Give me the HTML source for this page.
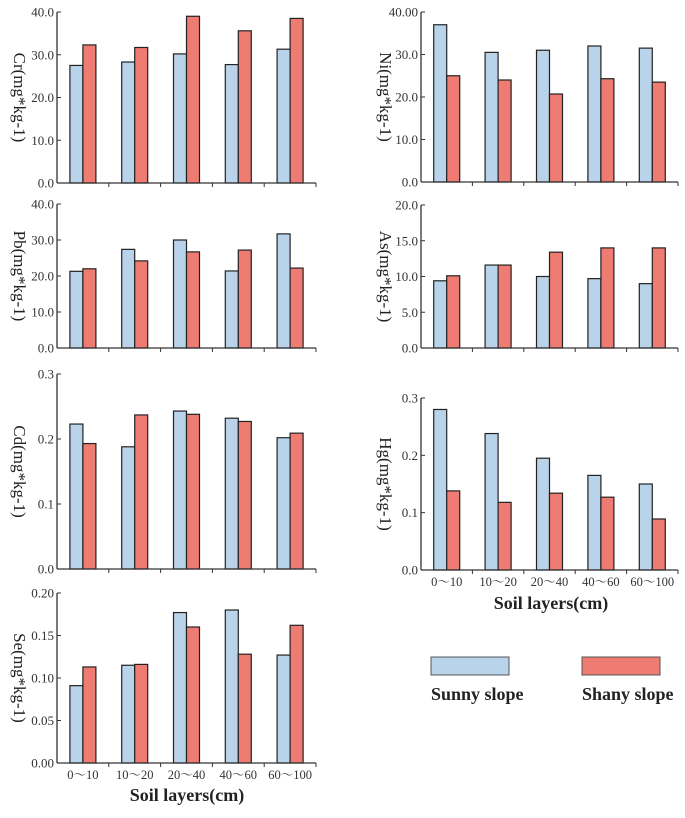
<!DOCTYPE html>
<html><head><meta charset="utf-8"><style>
body{margin:0;background:#fff;width:685px;height:813px;overflow:hidden}
svg text{font-family:"Liberation Serif","Noto Serif CJK SC",serif}
</style></head><body>
<svg id="c" width="685" height="813"></svg>
<script>
const categories=["0～10","10～20","20～40","40～60","60～100"];
const crSunny=[27.5,28.3,30.2,27.7,31.3];
const crShady=[32.3,31.7,39.0,35.6,38.5];
const niSunny=[37.0,30.5,31.0,32.0,31.5];
const niShady=[25.0,24.0,20.7,24.3,23.5];
const pbSunny=[21.3,27.4,30.0,21.4,31.7];
const pbShady=[22.0,24.2,26.7,27.2,22.2];
const asSunny=[9.4,11.6,10.0,9.7,9.0];
const asShady=[10.1,11.6,13.4,14.0,14.0];
const cdSunny=[0.223,0.188,0.243,0.232,0.202];
const cdShady=[0.193,0.237,0.238,0.227,0.209];
const hgSunny=[0.280,0.238,0.195,0.165,0.150];
const hgShady=[0.138,0.118,0.134,0.127,0.089];
const seSunny=[0.091,0.115,0.177,0.180,0.127];
const seShady=[0.113,0.116,0.160,0.128,0.162];
const crTicks=["0.0","10.0","20.0","30.0","40.0"];
const niTicks=["0.0","10.0","20.0","30.0","40.00"];
const pbTicks=["0.0","10.0","20.0","30.0","40.0"];
const asTicks=["0.0","5.0","10.0","15.0","20.0"];
const cdTicks=["0.0","0.1","0.2","0.3"];
const hgTicks=["0.0","0.1","0.2","0.3"];
const seTicks=["0.00","0.05","0.10","0.15","0.20"];

const NS="http://www.w3.org/2000/svg";
const svg=document.getElementById('c');
function mk(t,a,p){const e=document.createElementNS(NS,t);for(const k in a)e.setAttribute(k,a[k]);(p||svg).appendChild(e);return e;}

function panel(name,x0,x1,yTop,yBot,ticks,sunny,shady,title,titleX,showX){
  const g=mk('g',{});
  
  
  const maxV=parseFloat(ticks[ticks.length-1]);
  const y=v=>yBot-(v/maxV)*(yBot-yTop);
  const cw=(x1-x0)/categories.length;
  const bw=13;
  categories.forEach((c,i)=>{
    const cx=x0+cw*(i+0.5);
    const b1=mk('rect',{x:cx-bw,y:y(sunny[i]),width:bw,height:yBot-y(sunny[i]),fill:'#b8d3ea',stroke:'#222','stroke-width':1.2},g);
    
    
    const b2=mk('rect',{x:cx,y:y(shady[i]),width:bw,height:yBot-y(shady[i]),fill:'#ef7c72',stroke:'#222','stroke-width':1.2},g);
    
    
    if(i>0)mk('line',{x1:x0+cw*i,x2:x0+cw*i,y1:yBot,y2:yBot+4,stroke:'#333'},g);
    if(showX){const t=mk('text',{x:cx,y:yBot+16,'text-anchor':'middle','font-size':12.5,fill:'#333'},g);t.textContent=c;
      
      }
  });
  mk('line',{x1:x1,x2:x1,y1:yBot,y2:yBot+4,stroke:'#333'},g);
  mk('line',{x1:x0,x2:x1,y1:yBot,y2:yBot,stroke:'#333','stroke-width':1.3},g);
  mk('line',{x1:x0,x2:x0,y1:yTop,y2:yBot,stroke:'#333','stroke-width':1.3},g);
  ticks.forEach(t=>{
    const yy=y(parseFloat(t));
    mk('line',{x1:x0,x2:x0+4,y1:yy,y2:yy,stroke:'#333'},g);
    const tx=mk('text',{x:x0-3,y:yy+4.5,'text-anchor':'end','font-size':13,fill:'#333'},g);tx.textContent=t;
    
    
  });
  const my=(yTop+yBot)/2;
  const tt=mk('text',{x:titleX,y:my,'text-anchor':'middle','font-size':17,fill:'#222',transform:`rotate(90 ${titleX} ${my})`},g);
  tt.textContent=title;
  
  
}
panel('cr',57,316,12,183,crTicks,crSunny,crShady,'Cr(mg*kg-1)',14,false);
panel('pb',57,316,204,348,pbTicks,pbSunny,pbShady,'Pb(mg*kg-1)',14,false);
panel('cd',57,316,374,569,cdTicks,cdSunny,cdShady,'Cd(mg*kg-1)',14,false);
panel('se',57,316,593,763,seTicks,seSunny,seShady,'Se(mg*kg-1)',14,true);
panel('ni',421,678,12,182,niTicks,niSunny,niShady,'Ni(mg*kg-1)',380,false);
panel('as',421,678,205,348,asTicks,asSunny,asShady,'As(mg*kg-1)',380,false);
panel('hg',421,678,398,570,hgTicks,hgSunny,hgShady,'Hg(mg*kg-1)',380,true);

const xt1=mk('text',{x:187,y:801,'text-anchor':'middle','font-size':18,'font-weight':'bold',fill:'#222'});xt1.textContent='Soil layers(cm)';


const xt2=mk('text',{x:551,y:609,'text-anchor':'middle','font-size':18,'font-weight':'bold',fill:'#222'});xt2.textContent='Soil layers(cm)';



const l1=mk('rect',{x:431,y:657,width:78,height:18,fill:'#b8d3ea',stroke:'#555'});


const l2=mk('rect',{x:582,y:657,width:78,height:18,fill:'#ef7c72',stroke:'#555'});


const lt1=mk('text',{x:431,y:700,'font-size':18,'font-weight':'bold',fill:'#222'});lt1.textContent='Sunny slope';


const lt2=mk('text',{x:582,y:700,'font-size':18,'font-weight':'bold',fill:'#222'});lt2.textContent='Shany slope';


</script>
</body></html>
